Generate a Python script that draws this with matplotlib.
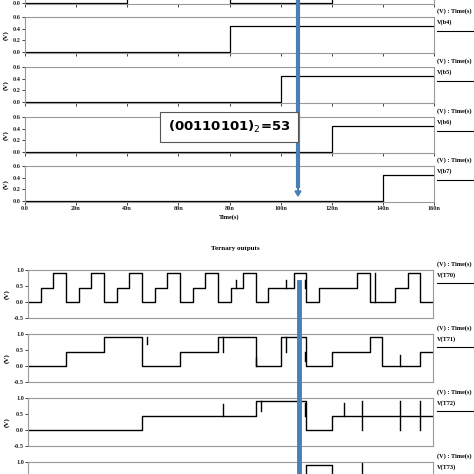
import matplotlib
matplotlib.use("Agg")
import matplotlib.pyplot as plt
import numpy as np

plt.rcParams['font.family'] = ['Liberation Serif', 'DejaVu Serif']

# binary inputs
bin_names = ["V(b3)", "V(b4)", "V(b5)", "V(b6)", "V(b7)"]
bin_rise = [None, 80, 100, 120, 140]
b3_edges = [0, 40, 80, 120, 160]
b3_levels = [0, 0.45, 0, 0.45]
bin_xticks = ["0.0", "20n", "40n", "60n", "80n", "100n", "120n", "140n", "160n"]

# ternary outputs: level per 5 ns slot (32 slots)
t_names = ["V(T70)", "V(T71)", "V(T72)", "V(T73)"]
T0 = [0,.45,.9, 0,.45,.9, 0,.45,.9, 0,.45,.9, 0,.45,.9, 0,.45,.9, 0,.45,.45,.9, 0,.45,.45,.45,.9, 0,0,.45,.9,0]
T1 = [0,0,0,.45,.45,.45,.9,.9,.9,0,0,0,.45,.45,.45,.9,.9,.9,0,0,.9,.9,0,0,.45,.45,.45,.9,0,0,0,.45]
T2 = [0]*9 + [.45]*9 + [.9]*4 + [0,0] + [.45]*8
T3 = [0]*22 + [.9,.9] + [.45]*8
T0_spikes = [(82, .45, .7), (102, .45, .7), (109.5, .45, .7), (137, 0, .9)]
T1_spikes = [(47, .9, .7), (77, .9, .45), (90, 0, .25), (102, .45, .9), (109.5, .45, .15), (147, 0, .35)]
T2_spikes = [(77, .45, .8), (92, .9, .6), (109.5, .45, .85), (125, .45, .85), (132, 0, .9), (147, 0, .9), (155, 0, .9)]
T3_spikes = [(132, .45, 1.0)]

W = H = 474
fig = plt.figure(figsize=(W/100, H/100), dpi=100)

def ax_px(l, t, r, b):
    return fig.add_axes([l/W, 1-b/H, (r-l)/W, (b-t)/H])

def style(ax):
    for s in ax.spines.values():
        s.set_color('#999999'); s.set_linewidth(0.8)
    ax.tick_params(length=2, width=0.6, labelsize=4.5, pad=1, colors='#222222')
    for lb in ax.get_yticklabels() + ax.get_xticklabels():
        lb.set_fontweight('bold')
    ax.set_ylabel("(V)", fontsize=5, fontweight='bold', labelpad=3)

def legend(top, name, line_y_off):
    fig.text(437/W, 1-(top-6)/H, "(V) : Time(s)", fontsize=4.5, fontweight='bold', va='center')
    fig.text(437/W, 1-(top+5)/H, name, fontsize=4.5, fontweight='bold', va='center')
    fig.add_artist(plt.Line2D([437/W, 474/W], [1-(top+line_y_off)/H]*2, color='black', lw=0.8))

tops = [-32, 17, 67, 117, 166]
for i, tp in enumerate(tops):
    ax = ax_px(25, tp, 434, tp+36)
    if bin_rise[i] is None:
        ax.step(b3_edges, b3_levels + [b3_levels[-1]], where='post', color='black', lw=0.9)
    else:
        ax.plot([0, bin_rise[i], bin_rise[i], 160], [0, 0, 0.45, 0.45], color='black', lw=0.9)
    ax.set_xlim(0, 160); ax.set_ylim(-0.02, 0.6)
    if i == 0:
        ax.set_yticks([0]); ax.set_yticklabels(["0.0"])
    else:
        ax.set_yticks([0, .2, .4, .6]); ax.set_yticklabels(["0.0", "0.2", "0.4", "0.6"])
    ax.set_xticks(np.arange(0, 161, 20))
    if i == 4:
        ax.set_xticklabels(bin_xticks)
        ax.set_xlabel("Time(s)", fontsize=4.5, fontweight='bold', labelpad=2)
    else:
        ax.set_xticklabels([]); ax.tick_params(axis='x', length=0)
    style(ax)
    if i == 0:
        ax.set_ylabel("")
    else:
        legend(tp, bin_names[i], 14)

fig.text(235/W, 1-248/H, "Ternary outputs", fontsize=5, fontweight='bold', ha='center', va='center')

ttops = [270, 334, 398, 462]
edges = np.arange(0, 161, 5)
for i, (tp, lv, sp) in enumerate(zip(ttops, [T0, T1, T2, T3], [T0_spikes, T1_spikes, T2_spikes, T3_spikes])):
    ax = ax_px(28, tp, 433, tp+48)
    ax.step(edges, lv + [lv[-1]], where='post', color='black', lw=1.0)
    for x, y0, y1 in sp:
        ax.plot([x, x], [y0, y1], color='black', lw=1.0)
    ax.set_xlim(0, 160); ax.set_ylim(-0.5, 1.0)
    if i == 3:
        ax.set_yticks([1.0]); ax.set_yticklabels(["1.0"])
    else:
        ax.set_yticks([-.5, 0, .5, 1.0]); ax.set_yticklabels(["-0.5", "0.0", "0.5", "1.0"])
    ax.set_xticks([])
    style(ax)
    if i == 3:
        ax.set_ylabel("")
    legend(tp, t_names[i], 13)

# annotation arrows and box
blue = '#4a7fb5'
fig.add_artist(plt.Line2D([298/W, 298/W], [1.0, 1-186/H], color=blue, lw=3))
fig.add_artist(matplotlib.patches.FancyArrow(298/W, 1-184/H, 0, -7/H, width=0.5/W, head_width=6/W,
                                             head_length=5/H, color=blue))
fig.add_artist(plt.Line2D([299/W, 299/W], [1-282/H, 0], color=blue, lw=3.5))
fig.text(229/W, 1-127/H, r"(00110101)$_2$=53", fontsize=9.5, fontweight='bold', family='DejaVu Sans',
         ha='center', va='center',
         bbox=dict(boxstyle='square,pad=0.55', fc='white', ec='#555555', lw=0.8))

fig.savefig("out.png", dpi=100)
